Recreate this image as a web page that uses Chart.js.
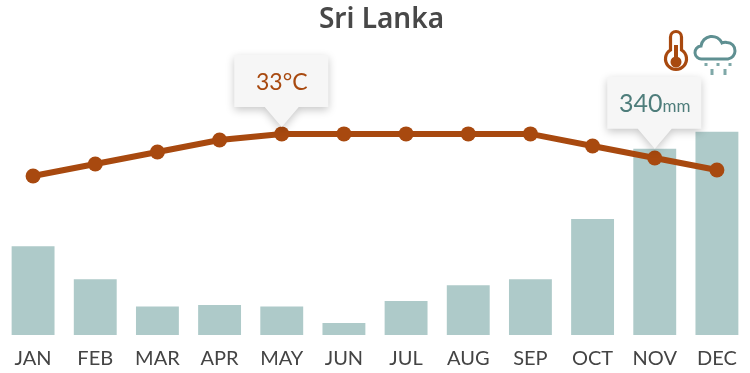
<!DOCTYPE html>
<html>
<head>
<meta charset="utf-8">
<script src="https://cdn.jsdelivr.net/npm/chart.js@4"></script>
<style>
html, body { margin: 0; padding: 0; background: #fff; }
#wrap { position: relative; width: 750px; height: 373px; overflow: hidden; }
#icons { position: absolute; left: 660px; top: 25px; }
</style>
</head>
<body>
<div id="wrap">
    <canvas id="chart" width="750" height="373"></canvas>
    <svg id="icons" width="85" height="55" viewBox="660 25 85 55">
        <path d="M670.5 50 V37 a5.5 5.5 0 0 1 11 0 V50 a10.5 10.5 0 1 1 -11 0 Z" fill="none" stroke="#a8490f" stroke-width="3.2"/>
        <rect x="674" y="45" width="4" height="14" fill="#a8490f"/>
        <circle cx="676" cy="62" r="5.5" fill="#a8490f"/>
        <path d="M703 59 H702 a6.5 6.5 0 0 1 -1 -13 a11 11 0 0 1 21 -3 a8 8 0 0 1 5 -0.5 a8 8 0 0 1 8 8.5 a8 8 0 0 1 -7 8 H703 Z" fill="none" stroke="#5f9092" stroke-width="3"/>
        <path d="M706 63 V66 M718 63 V66 M730 63 V66 M712 69 V75 M725 69 V75" stroke="#7fa8a8" stroke-width="3" fill="none"/>
    </svg>
</div>
<script>
const months = ['JAN', 'FEB', 'MAR', 'APR', 'MAY', 'JUN', 'JUL', 'AUG', 'SEP', 'OCT', 'NOV', 'DEC'];
const rainfall = [162, 102, 52, 55, 52, 22, 62, 91, 102, 212, 340, 371];
const temperature = [29.5, 30.5, 31.5, 32.5, 33, 33, 33, 33, 33, 32, 31, 30];

const TEMP_COLOR = '#a8490f';
const RAIN_COLOR = '#aecac9';
const RAIN_TEXT = '#4e7d7b';
const FONT = 'Lato, sans-serif';
const TITLE_FONT = '"Noto Sans", sans-serif';

// callout box sitting over a data point, tip pointing down at it
function callout(ctx, x, tipY, parts) {
    const w = 94, h = 52, tip = 20;
    const left = x - 47.5;
    const top = tipY - tip - h;
    ctx.save();
    ctx.shadowColor = 'rgba(0,0,0,0.22)';
    ctx.shadowBlur = 9;
    ctx.shadowOffsetY = 3;
    ctx.fillStyle = '#f6f6f6';
    ctx.beginPath();
    ctx.moveTo(left, top);
    ctx.lineTo(left + w, top);
    ctx.lineTo(left + w, top + h);
    ctx.lineTo(x + 17, top + h);
    ctx.lineTo(x, tipY);
    ctx.lineTo(x - 17, top + h);
    ctx.lineTo(left, top + h);
    ctx.closePath();
    ctx.fill();
    ctx.restore();

    ctx.save();
    ctx.textBaseline = 'alphabetic';
    ctx.textAlign = 'left';
    let total = 0;
    parts.forEach(p => { ctx.font = p.font; total += ctx.measureText(p.text).width; });
    let cx = x - total / 2;
    parts.forEach(p => {
        ctx.font = p.font;
        ctx.fillStyle = p.color;
        ctx.fillText(p.text, cx, top + 35);
        cx += ctx.measureText(p.text).width;
    });
    ctx.restore();
}

const calloutPlugin = {
    id: 'callouts',
    // title sits a little right of the canvas centre in the original
    afterLayout(chart) {
        chart.titleBlock.left += 13;
    },
    afterDraw(chart) {
        const ctx = chart.ctx;
        const x = chart.scales.x;
        callout(ctx, x.getPixelForValue(4), chart.scales.yTemp.getPixelForValue(temperature[4]) - 7, [
            { text: temperature[4] + '°C', font: '23px ' + FONT, color: TEMP_COLOR }
        ]);
        callout(ctx, x.getPixelForValue(10), chart.scales.yRain.getPixelForValue(rainfall[10]), [
            { text: String(rainfall[10]), font: '25px ' + FONT, color: RAIN_TEXT },
            { text: 'mm', font: '17px ' + FONT, color: RAIN_TEXT }
        ]);
    }
};

new Chart(document.getElementById('chart').getContext('2d'), {
    data: {
        labels: months,
        datasets: [
            {
                type: 'line', data: temperature, yAxisID: 'yTemp', order: 1,
                borderColor: TEMP_COLOR, borderWidth: 6, tension: 0,
                pointBackgroundColor: TEMP_COLOR, pointBorderColor: TEMP_COLOR,
                pointRadius: 7.5, pointBorderWidth: 0
            },
            {
                type: 'bar', data: rainfall, yAxisID: 'yRain', order: 2,
                backgroundColor: RAIN_COLOR, barPercentage: 0.69, categoryPercentage: 1
            }
        ]
    },
    options: {
        responsive: false,
        animation: false,
        layout: { autoPadding: false, padding: { left: 2, right: 2, bottom: 2, top: 0 } },
        plugins: {
            legend: { display: false },
            tooltip: { enabled: false },
            title: {
                display: true, text: 'Sri Lanka', color: '#484848',
                font: { family: TITLE_FONT, size: 28, weight: '600' },
                padding: { top: 3, bottom: 1 }
            }
        },
        scales: {
            x: {
                grid: { display: false },
                border: { display: false },
                ticks: { color: '#444', font: { family: FONT, size: 20 }, padding: 4, maxRotation: 0, autoSkip: false },
                afterFit: s => { s.paddingLeft = 0; s.paddingRight = 0; s.height = 36; }
            },
            yRain: { display: false, min: 0, max: 543 },
            yTemp: { display: false, min: 16.3, max: 41 }
        }
    },
    plugins: [calloutPlugin]
});
</script>
</body>
</html>
